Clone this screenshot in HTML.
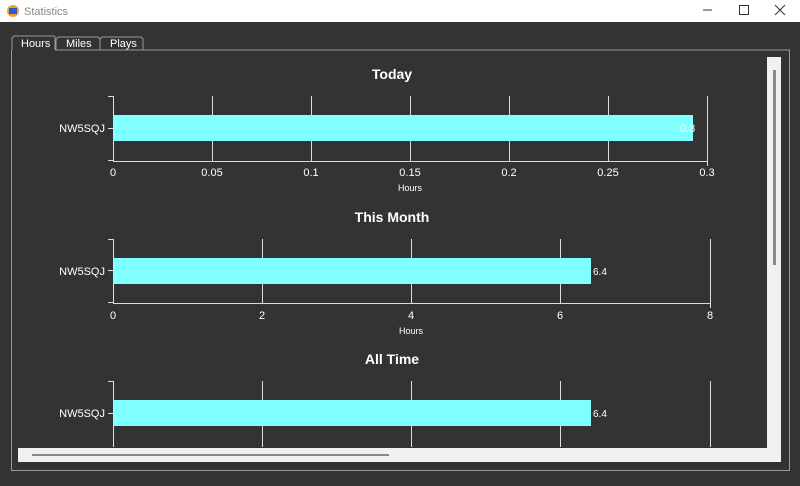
<!DOCTYPE html>
<html><head><style>
body{margin:0;width:800px;height:481px;overflow:hidden;background:#333;font-family:"Liberation Sans",sans-serif}
</style></head><body>
<svg width="800" height="481" xmlns="http://www.w3.org/2000/svg" font-family="Liberation Sans, sans-serif">
<rect width="800" height="481" fill="#333"/>
<rect width="800" height="22" fill="#fff"/>
<circle cx="13" cy="11" r="6" fill="#f0a030"/><rect x="9" y="8" width="8" height="6" fill="#2a5bd0"/>
<text x="24" y="15" font-size="11" fill="#888">Statistics</text>
<line x1="703" y1="10" x2="712" y2="10" stroke="#333"/>
<rect x="739.5" y="5.5" width="9" height="9" fill="none" stroke="#333"/>
<path d="M775 5 L785 15 M785 5 L775 15" stroke="#333"/>
<!-- tabs -->
<path d="M12 50 V38 l2-2 H54 l1 1 V50" fill="#333" stroke="#999"/>
<path d="M56 50 V39 l2-2 H98 l2 2 V50" fill="#333" stroke="#999"/>
<path d="M100 50 V39 l2-2 H141 l2 2 V50" fill="#333" stroke="#999"/>
<text x="21" y="47" font-size="11" fill="#fff">Hours</text>
<text x="66" y="47" font-size="11" fill="#fff">Miles</text>
<text x="110" y="47" font-size="11" fill="#fff">Plays</text>
<path d="M55 50 H789.5 V470.5 H11.5 V50" fill="none" stroke="#999"/>
<!-- chart 1 -->
<g fill="#fff" font-size="11">
<text x="392" y="79" font-size="14" font-weight="bold" text-anchor="middle">Today</text>
<g stroke="#ddd">
<line x1="113.5" y1="96" x2="113.5" y2="161"/><line x1="108" y1="96.5" x2="113" y2="96.5"/><line x1="108" y1="160.5" x2="113" y2="160.5"/><line x1="108" y1="128.5" x2="113" y2="128.5"/>
<line x1="212.5" y1="96" x2="212.5" y2="161"/><line x1="311.5" y1="96" x2="311.5" y2="161"/><line x1="410.5" y1="96" x2="410.5" y2="161"/><line x1="509.5" y1="96" x2="509.5" y2="161"/><line x1="608.5" y1="96" x2="608.5" y2="161"/><line x1="707.5" y1="96" x2="707.5" y2="166"/>
<line x1="113" y1="161.5" x2="708" y2="161.5"/>
</g>
<rect x="114" y="115" width="579" height="26" fill="#80ffff"/>
<text x="680" y="132" fill="#fff">0.3</text>
<text x="105" y="132" text-anchor="end">NW5SQJ</text>
<g text-anchor="middle"><text x="113" y="176">0</text><text x="212" y="176">0.05</text><text x="311" y="176">0.1</text><text x="410" y="176">0.15</text><text x="509" y="176">0.2</text><text x="608" y="176">0.25</text><text x="707" y="176">0.3</text>
<text x="410" y="191" font-size="9">Hours</text></g>
<!-- chart 2 -->
<text x="392" y="222" font-size="14" font-weight="bold" text-anchor="middle">This Month</text>
<g stroke="#ddd">
<line x1="113.5" y1="239" x2="113.5" y2="303"/><line x1="108" y1="239.5" x2="113" y2="239.5"/><line x1="108" y1="302.5" x2="113" y2="302.5"/><line x1="108" y1="270.5" x2="113" y2="270.5"/>
<line x1="262.5" y1="239" x2="262.5" y2="303"/><line x1="411.5" y1="239" x2="411.5" y2="303"/><line x1="560.5" y1="239" x2="560.5" y2="303"/><line x1="710.5" y1="239" x2="710.5" y2="308"/>
<line x1="113" y1="303.5" x2="711" y2="303.5"/>
</g>
<rect x="114" y="258" width="477" height="26" fill="#80ffff"/>
<text x="593" y="275" font-size="10">6.4</text>
<text x="105" y="275" text-anchor="end">NW5SQJ</text>
<g text-anchor="middle"><text x="113" y="319">0</text><text x="262" y="319">2</text><text x="411" y="319">4</text><text x="560" y="319">6</text><text x="710" y="319">8</text>
<text x="411" y="334" font-size="9">Hours</text></g>
<!-- chart 3 -->
<text x="392" y="364" font-size="14" font-weight="bold" text-anchor="middle">All Time</text>
<g stroke="#ddd">
<line x1="113.5" y1="381" x2="113.5" y2="447"/><line x1="108" y1="381.5" x2="113" y2="381.5"/><line x1="108" y1="413.5" x2="113" y2="413.5"/>
<line x1="262.5" y1="381" x2="262.5" y2="447"/><line x1="411.5" y1="381" x2="411.5" y2="447"/><line x1="560.5" y1="381" x2="560.5" y2="447"/><line x1="710.5" y1="381" x2="710.5" y2="447"/>
</g>
<rect x="114" y="400" width="477" height="26" fill="#80ffff"/>
<text x="593" y="417" font-size="10">6.4</text>
<text x="105" y="417" text-anchor="end">NW5SQJ</text>
</g>
<!-- scrollbars -->
<rect x="767" y="57" width="14" height="405" fill="#f0f0f0"/>
<rect x="773" y="70" width="3" height="195" fill="#888"/>
<rect x="18" y="448" width="763" height="14" fill="#f0f0f0"/>
<rect x="32" y="454" width="357" height="2" fill="#888"/>
</svg>
</body></html>
